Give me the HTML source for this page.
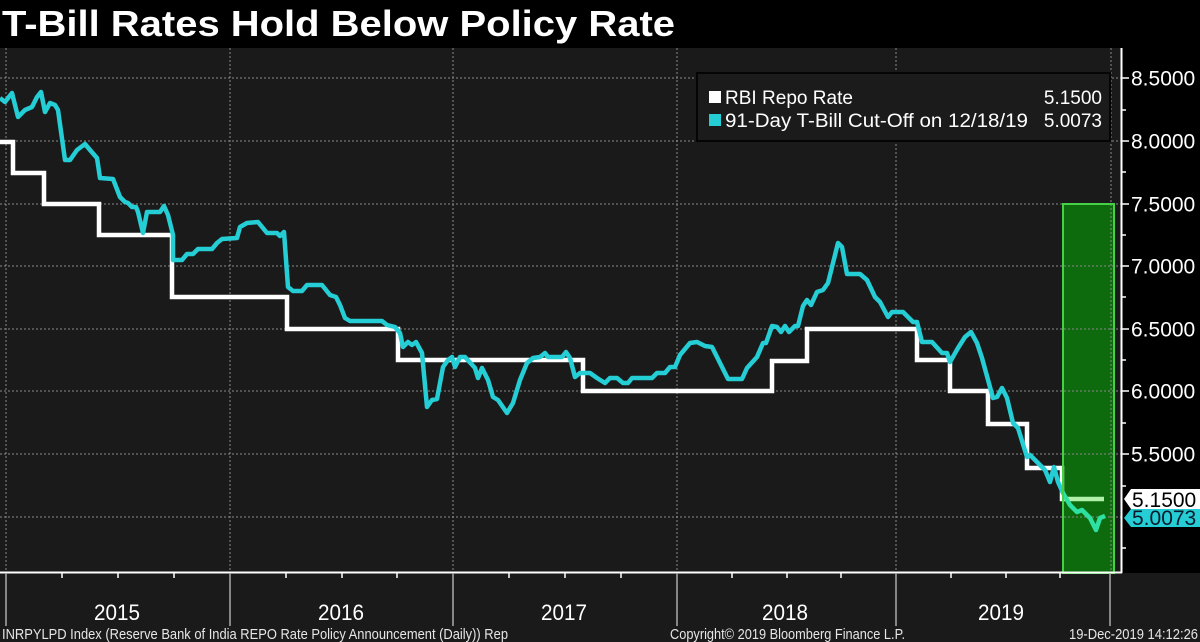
<!DOCTYPE html>
<html><head><meta charset="utf-8"><style>
html,body{margin:0;padding:0;background:#1a1a1a;}
svg{display:block;}
</style></head><body>
<svg width="1200" height="642" viewBox="0 0 1200 642" xmlns="http://www.w3.org/2000/svg" font-family="'Liberation Sans', sans-serif">
<defs>
<clipPath id="cout"><rect x="0" y="48" width="1063" height="525"/></clipPath>
<clipPath id="cin"><rect x="1063" y="48" width="58" height="525"/></clipPath>
</defs>
<rect x="0" y="0" width="1200" height="642" fill="#1a1a1a"/>
<rect x="0" y="0" width="1200" height="48" fill="#000"/>
<text x="2" y="36" font-size="36" font-weight="bold" fill="#fff" textLength="673" lengthAdjust="spacingAndGlyphs">T-Bill Rates Hold Below Policy Rate</text>
<rect x="1121" y="48" width="79" height="525" fill="#000"/>
<rect x="1063" y="204" width="51" height="369" fill="#0d6b0d"/>
<g stroke="#8a8a8a" stroke-width="1" stroke-dasharray="2,2" fill="none">
<line x1="0" y1="78" x2="1121" y2="78"/>
<line x1="0" y1="141" x2="1121" y2="141"/>
<line x1="0" y1="204" x2="1121" y2="204"/>
<line x1="0" y1="266" x2="1121" y2="266"/>
<line x1="0" y1="329" x2="1121" y2="329"/>
<line x1="0" y1="391" x2="1121" y2="391"/>
<line x1="0" y1="454" x2="1121" y2="454"/>
<line x1="0" y1="517" x2="1121" y2="517"/>
<line x1="6" y1="48" x2="6" y2="573"/>
<line x1="230" y1="48" x2="230" y2="573"/>
<line x1="453" y1="48" x2="453" y2="573"/>
<line x1="677" y1="48" x2="677" y2="573"/>
<line x1="896" y1="48" x2="896" y2="573"/>
<line x1="1111" y1="48" x2="1111" y2="573"/>
</g>
<g fill="none" stroke-width="4.5" stroke-linejoin="round">
<g clip-path="url(#cout)">
<polyline stroke="#ffffff" stroke-linejoin="miter" points="0,142 13,142 13,173 44,173 44,204 99,204 99,235 172,235 172,297 287,297 287,329 398,329 398,360 583,360 583,391 772,391 772,361 807,361 807,329 917,329 917,360 950,360 950,391 988,391 988,424 1027,424 1027,468 1062,468 1062,499 1104,499"/>
<polyline stroke="#25cdd5" points="0,98 5,102 12,93 18,117 25,110 32,107 37,97 41,92 45,112 50,103 55,105 58,110 65,160 70,160 77,150 85,144 90,150 97,158 100,178 113,179 120,197 125,202 128,203 132,207 136,207 138,212 143,233 147,212 160,212 164,206 168,215 173,235 173,260 182,260 187,254 193,254 198,249 212,249 217,243 222,239 237,238 240,227 247,223 258,222 267,233 277,233 280,236 284,232 288,287 293,291 302,291 307,285 322,285 330,295 336,297 340,305 345,318 350,321 382,321 387,325 395,327 400,333 403,347 408,342 412,345 416,342 422,353 427,407 432,400 437,399 443,367 448,360 452,357 455,367 460,357 465,357 475,368 478,378 482,368 488,380 493,397 498,400 507,413 513,403 520,380 527,363 533,358 540,357 545,353 548,357 562,357 566,352 570,358 575,377 580,373 590,373 597,378 605,383 610,378 617,378 623,383 628,383 632,378 652,378 657,373 665,373 670,367 675,367 680,355 690,343 697,342 705,346 712,347 728,379 742,379 747,368 757,357 763,343 766,343 772,326 777,327 781,332 785,326 789,332 795,326 798,326 803,306 807,300 811,305 817,292 823,290 828,283 838,243 842,247 847,274 860,274 867,280 875,297 880,302 888,317 892,312 903,312 913,322 917,322 922,342 932,342 942,353 947,353 950,362 958,348 965,337 971,332 977,343 982,358 993,398 997,397 1002,388 1007,398 1013,423 1018,428 1027,457 1030,455 1037,462 1045,470 1050,482 1054,467 1058,482 1063,493 1070,505 1077,512 1082,510 1090,518 1096,530 1100,518 1105,516"/>
</g>
<g clip-path="url(#cin)">
<polyline stroke="#b0f0a8" stroke-linejoin="miter" points="1027,468 1062,468 1062,499 1104,499"/>
<polyline stroke="#2ee0a2" points="1050,482 1054,467 1058,482 1063,493 1070,505 1077,512 1082,510 1090,518 1096,530 1100,518 1105,516"/>
</g>
</g>
<rect x="1063" y="204" width="51" height="369" fill="none" stroke="#45d045" stroke-width="2"/>
<rect x="697" y="73" width="413" height="68" fill="#1b1b1b" stroke="#050505" stroke-width="2"/>
<rect x="709" y="91" width="12" height="12" fill="#fff"/>
<rect x="709" y="114" width="12" height="12" fill="#25cdd5"/>
<g fill="#fff" font-size="19">
<text x="725" y="104" textLength="128" lengthAdjust="spacingAndGlyphs">RBI Repo Rate</text>
<text x="1102" y="104" text-anchor="end">5.1500</text>
<text x="725" y="127" textLength="303" lengthAdjust="spacingAndGlyphs">91-Day T-Bill Cut-Off on 12/18/19</text>
<text x="1102" y="127" text-anchor="end">5.0073</text>
</g>
<line x1="0" y1="572.5" x2="1122" y2="572.5" stroke="#fff" stroke-width="2"/>
<line x1="1121.5" y1="48" x2="1121.5" y2="573" stroke="#fff" stroke-width="2"/>
<g stroke="#fff" stroke-width="1.5">
<line x1="1121" y1="78" x2="1129" y2="78"/>
<line x1="1121" y1="141" x2="1129" y2="141"/>
<line x1="1121" y1="204" x2="1129" y2="204"/>
<line x1="1121" y1="266" x2="1129" y2="266"/>
<line x1="1121" y1="329" x2="1129" y2="329"/>
<line x1="1121" y1="391" x2="1129" y2="391"/>
<line x1="1121" y1="454" x2="1129" y2="454"/>
<line x1="1121" y1="110" x2="1126" y2="110"/>
<line x1="1121" y1="172" x2="1126" y2="172"/>
<line x1="1121" y1="235" x2="1126" y2="235"/>
<line x1="1121" y1="297" x2="1126" y2="297"/>
<line x1="1121" y1="360" x2="1126" y2="360"/>
<line x1="1121" y1="423" x2="1126" y2="423"/>
<line x1="1121" y1="486" x2="1126" y2="486"/>
<line x1="1121" y1="548" x2="1126" y2="548"/>
</g>
<g fill="#fff" font-size="21">
<text x="1131" y="85.5">8.5000</text>
<text x="1131" y="148.5">8.0000</text>
<text x="1131" y="211.5">7.5000</text>
<text x="1131" y="273.5">7.0000</text>
<text x="1131" y="336.5">6.5000</text>
<text x="1131" y="398.5">6.0000</text>
<text x="1131" y="461.5">5.5000</text>
</g>
<polygon points="1124,518 1131,509 1200,509 1200,527 1131,527" fill="#25cdd5"/>
<text x="1132" y="525" font-size="21" fill="#0a1a2a">5.0073</text>
<polygon points="1124,499 1131,489 1200,489 1200,509 1131,509" fill="#fff"/>
<text x="1132" y="507" font-size="21" fill="#000">5.1500</text>
<g stroke="#aaaaaa" stroke-width="1.5">
<line x1="6" y1="573" x2="6" y2="626"/>
<line x1="230" y1="573" x2="230" y2="626"/>
<line x1="453" y1="573" x2="453" y2="626"/>
<line x1="677" y1="573" x2="677" y2="626"/>
<line x1="896" y1="573" x2="896" y2="626"/>
<line x1="1110" y1="573" x2="1110" y2="626"/>
</g>
<g stroke="#fff" stroke-width="1.5">
<line x1="62" y1="573" x2="62" y2="578"/>
<line x1="118" y1="573" x2="118" y2="578"/>
<line x1="174" y1="573" x2="174" y2="578"/>
<line x1="286" y1="573" x2="286" y2="578"/>
<line x1="342" y1="573" x2="342" y2="578"/>
<line x1="397" y1="573" x2="397" y2="578"/>
<line x1="509" y1="573" x2="509" y2="578"/>
<line x1="565" y1="573" x2="565" y2="578"/>
<line x1="621" y1="573" x2="621" y2="578"/>
<line x1="732" y1="573" x2="732" y2="578"/>
<line x1="787" y1="573" x2="787" y2="578"/>
<line x1="841" y1="573" x2="841" y2="578"/>
<line x1="951" y1="573" x2="951" y2="578"/>
<line x1="1006" y1="573" x2="1006" y2="578"/>
<line x1="1060" y1="573" x2="1060" y2="578"/>
</g>
<g fill="#fff" font-size="22" text-anchor="middle">
<text x="117" y="620" textLength="46" lengthAdjust="spacingAndGlyphs">2015</text>
<text x="341" y="620" textLength="46" lengthAdjust="spacingAndGlyphs">2016</text>
<text x="564" y="620" textLength="46" lengthAdjust="spacingAndGlyphs">2017</text>
<text x="785" y="620" textLength="46" lengthAdjust="spacingAndGlyphs">2018</text>
<text x="1001" y="620" textLength="46" lengthAdjust="spacingAndGlyphs">2019</text>
</g>
<g fill="#e6e6e6" font-size="15">
<text x="2" y="639" textLength="506" lengthAdjust="spacingAndGlyphs">INRPYLPD Index (Reserve Bank of India REPO Rate Policy Announcement (Daily)) Rep</text>
<text x="670" y="639" textLength="235" lengthAdjust="spacingAndGlyphs">Copyright© 2019 Bloomberg Finance L.P.</text>
<text x="1069" y="639" textLength="129" lengthAdjust="spacingAndGlyphs">19-Dec-2019 14:12:26</text>
</g>
</svg>
</body></html>
